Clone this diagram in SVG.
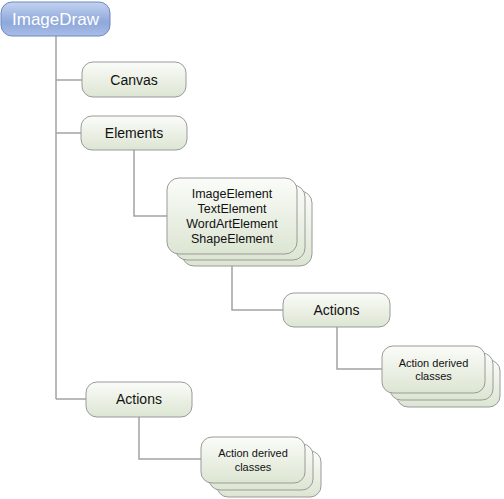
<svg xmlns="http://www.w3.org/2000/svg" width="504" height="499" viewBox="0 0 504 499">
<defs>
<linearGradient id="gn" x1="0" y1="0" x2="0" y2="1">
<stop offset="0" stop-color="#fbfcf9"/>
<stop offset="1" stop-color="#dce5d2"/>
</linearGradient>
<linearGradient id="gb" x1="0" y1="0" x2="0" y2="1">
<stop offset="0" stop-color="#c3d2f0"/>
<stop offset="0.6" stop-color="#8ea8da"/>
<stop offset="1" stop-color="#a9bde6"/>
</linearGradient>
</defs>
<style>
.n{fill:url(#gn);stroke:#9a9a9a;stroke-width:1}
.c{fill:none;stroke:#a3a3a3;stroke-width:1.5}
.t{font-family:"Liberation Sans",Arial,sans-serif;fill:#111;text-anchor:middle}
.t14{font-size:14px}
.t12{font-size:12.5px}
.t11{font-size:11px}
</style>
<rect width="504" height="499" fill="#ffffff"/>
<g id="connectors">
<polyline class="c" points="56,36 56,399"/>
<polyline class="c" points="56,80 82,80"/>
<polyline class="c" points="56,133 81,133"/>
<polyline class="c" points="56,399 86,399"/>
<polyline class="c" points="134,150 134,216 167,216"/>
<polyline class="c" points="232,254 232,310 283,310"/>
<polyline class="c" points="337,327 337,369 382,369"/>
<polyline class="c" points="139,417 139,459 201,459"/>
</g>
<g id="imagedraw">
<rect x="1" y="2" width="109" height="34" rx="11" fill="url(#gb)" stroke="#6f88c2" stroke-width="1"/>
<text x="55.5" y="25" font-family="'Liberation Sans',Arial,sans-serif" font-size="17" fill="#ffffff" text-anchor="middle">ImageDraw</text>
</g>
<g id="canvas">
<rect class="n" x="82" y="62" width="104" height="35" rx="11"/>
<text class="t t14" x="134" y="85">Canvas</text>
</g>
<g id="elements">
<rect class="n" x="81" y="116" width="106" height="34" rx="11"/>
<text class="t t14" x="134" y="138">Elements</text>
</g>
<g id="element-classes">
<rect class="n" x="182" y="191" width="130" height="75" rx="12"/>
<rect class="n" x="175" y="185" width="130" height="75" rx="12"/>
<rect class="n" x="167" y="178" width="130" height="76" rx="12"/>
<text class="t t12" x="232" y="197.5">ImageElement</text>
<text class="t t12" x="232" y="212.5">TextElement</text>
<text class="t t12" x="232" y="227.5">WordArtElement</text>
<text class="t t12" x="232" y="242.5">ShapeElement</text>
</g>
<g id="actions-right">
<rect class="n" x="283" y="293" width="107" height="34" rx="11"/>
<text class="t t14" x="336.5" y="315">Actions</text>
</g>
<g id="action-derived-right">
<rect class="n" x="397" y="360" width="103" height="47" rx="11"/>
<rect class="n" x="390" y="353" width="103" height="47" rx="11"/>
<rect class="n" x="382" y="346" width="103" height="47" rx="11"/>
<text class="t t11" x="433.5" y="367">Action derived</text>
<text class="t t11" x="433.5" y="380">classes</text>
</g>
<g id="actions-left">
<rect class="n" x="86" y="382" width="106" height="35" rx="11"/>
<text class="t t14" x="139" y="404">Actions</text>
</g>
<g id="action-derived-left">
<rect class="n" x="217" y="451" width="104" height="46" rx="11"/>
<rect class="n" x="209" y="444" width="104" height="46" rx="11"/>
<rect class="n" x="201" y="437" width="104" height="46" rx="11"/>
<text class="t t11" x="253" y="457">Action derived</text>
<text class="t t11" x="253" y="471">classes</text>
</g>
</svg>
